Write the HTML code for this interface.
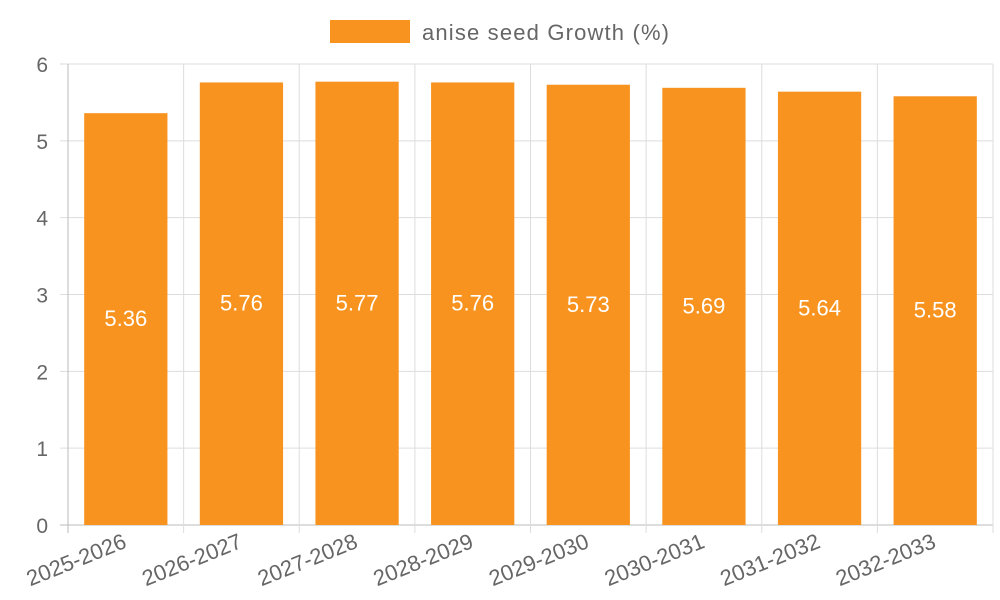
<!DOCTYPE html>
<html><head><meta charset="utf-8"><style>
body{margin:0;background:#fff;}
svg{display:block;font-family:"Liberation Sans",sans-serif;}
</style></head><body>
<svg id="chart" width="1000" height="600">
<g>
<rect x="330" y="20" width="80" height="23" fill="#f7931e"></rect>
<text x="422" y="40" font-size="22" fill="#666" textLength="247" lengthAdjust="spacing">anise seed Growth (%)</text>
</g>
<g id="grid"></g><g id="bars"></g><g id="labels"></g>
</svg>
<script>
const categories=["2025-2026","2026-2027","2027-2028","2028-2029","2029-2030","2030-2031","2031-2032","2032-2033"];
const values=[5.36,5.76,5.77,5.76,5.73,5.69,5.64,5.58];
const yTicks=[0,1,2,3,4,5,6];
const L=68,R=993,T=64,B=525,yMax=6;
const NS="http://www.w3.org/2000/svg";
const bw=(R-L)/categories.length;
const y=v=>B-(v/yMax)*(B-T);
const x=i=>L+i*bw;
function mk(tag,attrs,parent){const e=document.createElementNS(NS,tag);for(const k in attrs)e.setAttribute(k,attrs[k]);parent.appendChild(e);return e;}
const grid=document.getElementById('grid'),bars=document.getElementById('bars'),labels=document.getElementById('labels');
yTicks.forEach(t=>{
 const ln=mk('line',{x1:L-8,x2:R,y1:y(t),y2:y(t),stroke:t===0?'#bbb':'#ddd','stroke-width':1},grid);
 
 
 const tx=mk('text',{x:L-20,y:y(t)+8,'text-anchor':'end','font-size':21,fill:'#666'},grid);
 tx.textContent=t;
 
 
});
for(let i=0;i<=categories.length;i++){
 const ln=mk('line',{x1:x(i),x2:x(i),y1:T,y2:B+8,stroke:i===0?'#bbb':'#ddd','stroke-width':1},grid);
 
 
}
categories.forEach((c,i)=>{
 const w=bw*0.72,cx=x(i)+bw/2;
 const r=mk('rect',{x:cx-w/2,y:y(values[i]),width:w,height:B-y(values[i]),fill:'#f7931e'},bars);
 
 
 const v=mk('text',{x:cx,y:(y(values[i])+B)/2+7,'text-anchor':'middle','font-size':22,fill:'#fff'},labels);
 v.textContent=values[i];
 
 
 const ax=cx+2,ay=B+22;
 const t=mk('text',{x:ax,y:ay,'text-anchor':'end','font-size':22,fill:'#666',transform:`rotate(-22 ${ax} ${ay})`},labels);
 t.textContent=c;
 
 
});
</script>
</body></html>
